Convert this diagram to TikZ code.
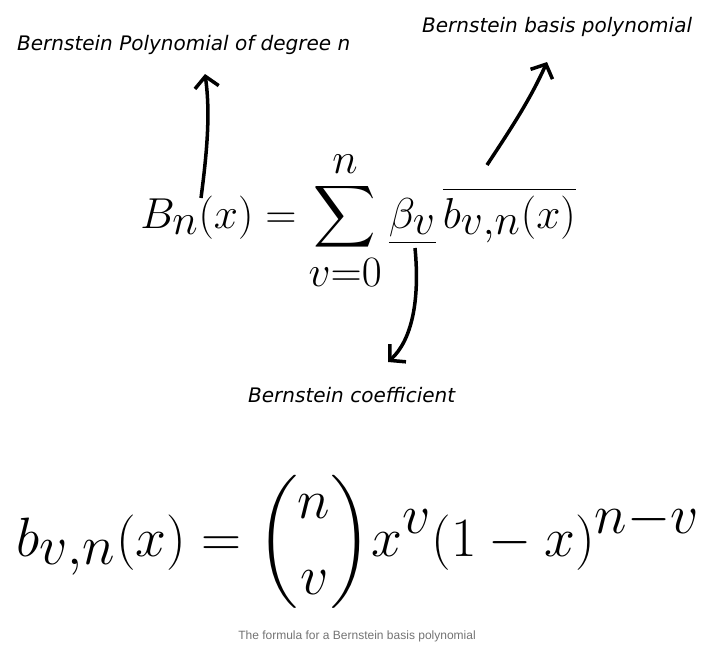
\documentclass[tikz,border=0pt]{standalone}
\usepackage{amsmath}
\usepackage{fontspec}
\newfontfamily\capfont{Liberation Sans}
\newfontfamily\handfont{DejaVu Sans}
\usetikzlibrary{arrows.meta}
\tikzset{lbl/.style={font=\handfont\itshape\fontsize{20}{22}\selectfont,anchor=base west,inner sep=0},
arr/.style={line width=3.5pt,-{Straight Barb[length=11pt,width=24pt,line width=3.5pt]}}}
\begin{document}
\begin{tikzpicture}[x=1pt,y=-1pt]
\useasboundingbox (0,0) rectangle (727,646);
\node[anchor=base, inner sep=0, scale=1.74, transform shape] (f1) at (358,228) {\fontsize{54}{60}\selectfont $B_n(x)=\displaystyle\sum_{v=0}^{n}\underline{\beta_v}\,\overline{b_{v,n}(x)}$};
\node[anchor=base, inner sep=0, scale=2.23, transform shape] (f2) at (358,556) {\fontsize{58}{64}\selectfont $b_{v,n}(x)=\displaystyle\binom{n}{v}x^v(1-x)^{n-v}$};
\node[lbl] (l1) at (17,50) {Bernstein Polynomial of degree n};
\node[lbl] (l2) at (422,32) {Bernstein basis polynomial};
\node[lbl] (l3) at (248,402) {Bernstein coefficient};
\node[anchor=base, font=\capfont\fontsize{12}{14}\selectfont, text=black!55] (cap) at (357,639) {The formula for a Bernstein basis polynomial};
\coordinate (a1s) at (201,198); \coordinate (a1e) at (205,74);
\coordinate (a2s) at (487,165); \coordinate (a2e) at (547,62);
\coordinate (a3s) at (415,248); \coordinate (a3e) at (388,362);
\draw[arr] (a1s) .. controls (208,145) and (210,110) .. (a1e);
\draw[arr] (a2s) .. controls (510,130) and (530,100) .. (a2e);
\draw[arr] (a3s) .. controls (420,300) and (412,340) .. (a3e);
\end{tikzpicture}
\end{document}
